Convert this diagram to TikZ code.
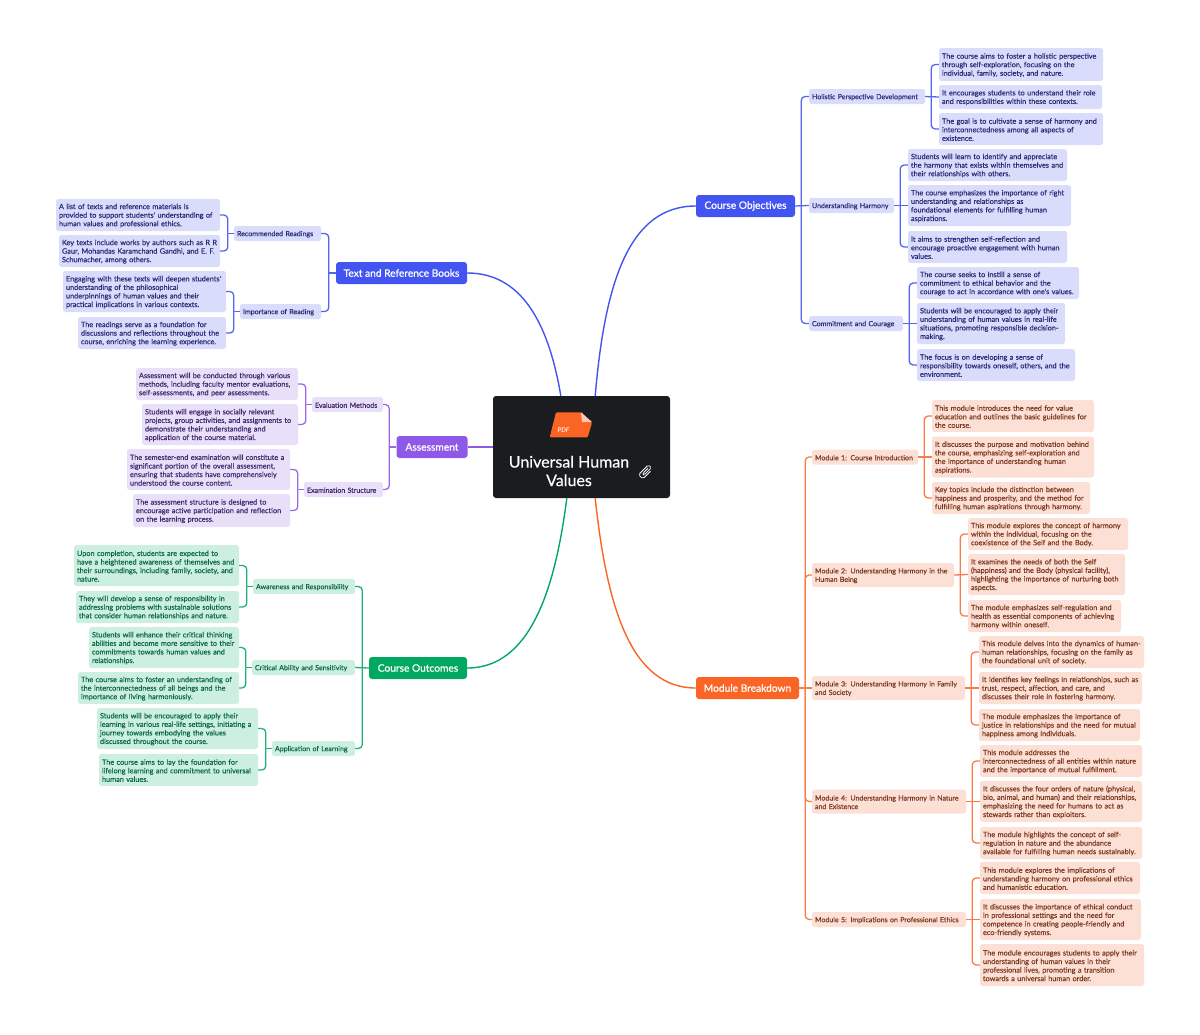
\documentclass[tikz,border=0pt]{standalone}
\usepackage{fontspec}
\usepackage{xcolor}
\setmainfont{Lato}
\newfontfamily\softbold{Lato}[FakeBold=0.3]
\newfontfamily\softbolder{Lato}[FakeBold=0.8]

\definecolor{rootdark}{HTML}{1B1C20}
\definecolor{bluemain}{HTML}{4355F0}
\definecolor{blueleaf}{HTML}{DADCFB}
\definecolor{blueink}{HTML}{2A2C78}
\definecolor{bluewire}{HTML}{5366F2}
\definecolor{purplemain}{HTML}{9058E6}
\definecolor{purpleleaf}{HTML}{E8DFF9}
\definecolor{purpleink}{HTML}{43296E}
\definecolor{purplewire}{HTML}{9A68E8}
\definecolor{greenmain}{HTML}{00A862}
\definecolor{greenleaf}{HTML}{CCEFDF}
\definecolor{greenink}{HTML}{0A6A46}
\definecolor{greenwire}{HTML}{1EB274}
\definecolor{orangemain}{HTML}{FA6425}
\definecolor{orangeleaf}{HTML}{FDE0D5}
\definecolor{orangeink}{HTML}{7B3A20}
\definecolor{orangewire}{HTML}{FB7A45}

\tikzset{
    fit box/.style 2 args={text width=#1pt,minimum height=#2pt},
    leaf/.style={rounded corners=2.5pt,inner xsep=3pt,inner ysep=0pt,align=left,font=\softbold\fontsize{7.3}{8.55}\selectfont,execute at begin node={\rule{0pt}{6.6pt}}},
    tag/.style={font=\softbold\fontsize{7.05}{8.55}\selectfont},
    blue leaf/.style={leaf,fill=blueleaf,text=blueink},
    purple leaf/.style={leaf,fill=purpleleaf,text=purpleink},
    green leaf/.style={leaf,fill=greenleaf,text=greenink},
    orange leaf/.style={leaf,fill=orangeleaf,text=orangeink},
    mainbox/.style={rounded corners=3pt,inner sep=0pt,text=white,align=center,font=\softbolder\fontsize{10.2}{12}\selectfont},
    wire/.style={line width=1.3pt,rounded corners=4pt},
    blue wire/.style={wire,draw=bluewire},
    purple wire/.style={wire,draw=purplewire},
    green wire/.style={wire,draw=greenwire},
    orange wire/.style={wire,draw=orangewire}
}

\begin{document}
\begin{tikzpicture}[x=1pt,y=-1pt]
    \useasboundingbox (0,0) rectangle (1200,1034);

    % centre
    \node[rounded corners=3pt,fill=rootdark,minimum width=177pt,minimum height=102pt] (root) at (581.5,447) {};
    \node[text=white,align=center,inner sep=0pt,font=\softbold\fontsize{16}{18.5}\selectfont] (roottitle) at (569,471) {Universal Human\\Values};
    \fill[orangemain,rounded corners=1pt] (549.7,437.3) -- (556,412.3) -- (581,412.3) -- (592,422.7) -- (587.7,437.3) -- cycle;
    \fill[orangemain!35!white] (581,412.3) -- (592,422) -- (582,422) -- cycle;
    \node[text=white!85!orange,inner sep=0pt,font=\fontsize{6.5}{7}\selectfont\bfseries\itshape] (pdfmark) at (563.5,430) {PDF};
    \draw[white,line width=0.8pt,line cap=round,rounded corners=1.7pt,shift={(646,471.5)},rotate=-45]
        (-0.9,-3.5) -- (-0.9,4) -- (1.1,4) -- (1.1,-6.5) -- (-3,-6.5) -- (-3,7.5) -- (3,7.5) -- (3,-3);

    % main topics
    \node[mainbox,fill=bluemain,minimum width=99pt,minimum height=22pt] (cob) at (745.5,206) {Course Objectives};
    \node[mainbox,fill=bluemain,minimum width=131pt,minimum height=22pt] (trb) at (401.5,273) {Text and Reference Books};
    \node[mainbox,fill=purplemain,minimum width=71pt,minimum height=22pt] (asm) at (432,447) {Assessment};
    \node[mainbox,fill=greenmain,minimum width=98pt,minimum height=22pt] (cou) at (418,668) {Course Outcomes};
    \node[mainbox,fill=orangemain,minimum width=103pt,minimum height=22pt] (mob) at (747.5,688) {Module Breakdown};

    \draw[line width=1.4pt,bluemain] (root.75) .. controls (605,280) and (630,206) .. (cob.west);
    \draw[line width=1.4pt,bluemain] (root.112) .. controls (548,320) and (520,273) .. (trb.east);
    \draw[line width=1.4pt,purplemain] (root.west) -- (asm.east);
    \draw[line width=1.4pt,greenmain] (root.254) .. controls (555,590) and (530,668) .. (cou.east);
    \draw[line width=1.4pt,orangemain] (root.285) .. controls (607,610) and (632,688) .. (mob.west);

    % course objectives
    \node[blue leaf,tag,fit box={110}{15}] (hpd) at (867,96.5) {Holistic Perspective Development};
    \node[blue leaf,fit box={158}{33}] (hpa) at (1021,64.5) {The course aims to foster a holistic perspective\\through self-exploration, focusing on the\\individual, family, society, and nature.};
    \node[blue leaf,fit box={157}{24}] (hpb) at (1020.5,97) {It encourages students to understand their role\\and responsibilities within these contexts.};
    \node[blue leaf,fit box={158}{32}] (hpc) at (1021,129) {The goal is to cultivate a sense of harmony and\\interconnectedness among all aspects of\\existence.};
    \node[blue leaf,tag,fit box={79}{15}] (uhn) at (851.5,205.5) {Understanding Harmony};
    \node[blue leaf,fit box={153}{32}] (uha) at (987.5,165) {Students will learn to identify and appreciate\\the harmony that exists within themselves and\\their relationships with others.};
    \node[blue leaf,fit box={157}{41}] (uhb) at (989.5,205.5) {The course emphasizes the importance of right\\understanding and relationships as\\foundational elements for fulfilling human\\aspirations.};
    \node[blue leaf,fit box={153}{32}] (uhc) at (987.5,247) {It aims to strengthen self-reflection and\\encourage proactive engagement with human\\values.};
    \node[blue leaf,tag,fit box={88}{15}] (ccg) at (856,323.5) {Commitment and Courage};
    \node[blue leaf,fit box={156}{32}] (cca) at (998,283) {The course seeks to instill a sense of\\commitment to ethical behavior and the\\courage to act in accordance with one's values.};
    \node[blue leaf,fit box={142}{41}] (ccb) at (991,323.5) {Students will be encouraged to apply their\\understanding of human values in real-life\\situations, promoting responsible decision-\\making.};
    \node[blue leaf,fit box={152}{32}] (ccc) at (996,365) {The focus is on developing a sense of\\responsibility towards oneself, others, and the\\environment.};

    \draw[blue wire] (cob.east) -- (uhn.west);
    \draw[blue wire] (cob.east) ++(6,0) |- (hpd.west);
    \draw[blue wire] (cob.east) ++(6,0) |- (ccg.west);
    \draw[blue wire] (hpd.east) -- (hpb.west);
    \draw[blue wire] (hpd.east) ++(6,0) |- (hpa.west);
    \draw[blue wire] (hpd.east) ++(6,0) |- (hpc.west);
    \draw[blue wire] (uhn.east) -- (uhb.west);
    \draw[blue wire] (uhn.east) ++(6,0) |- (uha.west);
    \draw[blue wire] (uhn.east) ++(6,0) |- (uhc.west);
    \draw[blue wire] (ccg.east) -- (ccb.west);
    \draw[blue wire] (ccg.east) ++(6,0) |- (cca.west);
    \draw[blue wire] (ccg.east) ++(6,0) |- (ccc.west);

    % module breakdown
    \node[orange leaf,tag,fit box={100}{15}] (moa) at (865,457) {Module 1: Course Introduction};
    \node[orange leaf,fit box={156}{32}] (maa) at (1013,416) {This module introduces the need for value\\education and outlines the basic guidelines for\\the course.};
    \node[orange leaf,fit box={156}{41}] (mab) at (1013,457) {It discusses the purpose and motivation behind\\the course, emphasizing self-exploration and\\the importance of understanding human\\aspirations.};
    \node[orange leaf,fit box={152}{32}] (mac) at (1011,498) {Key topics include the distinction between\\happiness and prosperity, and the method for\\fulfilling human aspirations through harmony.};
    \node[orange leaf,tag,fit box={136}{24}] (mob2) at (883,575) {Module 2: Understanding Harmony in the\\Human Being};
    \node[orange leaf,fit box={154}{32}] (mba) at (1048,534) {This module explores the concept of harmony\\within the individual, focusing on the\\coexistence of the Self and the Body.};
    \node[orange leaf,fit box={151}{41}] (mbb) at (1046.5,574.5) {It examines the needs of both the Self\\(happiness) and the Body (physical facility),\\highlighting the importance of nurturing both\\aspects.};
    \node[orange leaf,fit box={147}{32}] (mbc) at (1044.5,616) {The module emphasizes self-regulation and\\health as essential components of achieving\\harmony within oneself.};
    \node[orange leaf,tag,fit box={147}{24}] (moc) at (888.5,688) {Module 3: Understanding Harmony in Family\\and Society};
    \node[orange leaf,fit box={159}{32}] (mca) at (1061.5,652) {This module delves into the dynamics of human-\\human relationships, focusing on the family as\\the foundational unit of society.};
    \node[orange leaf,fit box={157}{32}] (mcb) at (1060.5,688) {It identifies key feelings in relationships, such as\\trust, respect, affection, and care, and\\discusses their role in fostering harmony.};
    \node[orange leaf,fit box={155}{32}] (mcc) at (1059.5,725) {The module emphasizes the importance of\\justice in relationships and the need for mutual\\happiness among individuals.};
    \node[orange leaf,tag,fit box={148}{24}] (mod) at (889,801.5) {Module 4: Understanding Harmony in Nature\\and Existence};
    \node[orange leaf,fit box={156}{32}] (mda) at (1061,761) {This module addresses the\\interconnectedness of all entities within nature\\and the importance of mutual fulfillment.};
    \node[orange leaf,fit box={156}{41}] (mdb) at (1061,801.5) {It discusses the four orders of nature (physical,\\bio, animal, and human) and their relationships,\\emphasizing the need for humans to act as\\stewards rather than exploiters.};
    \node[orange leaf,fit box={156}{32}] (mdc) at (1061,843) {The module highlights the concept of self-\\regulation in nature and the abundance\\available for fulfilling human needs sustainably.};
    \node[orange leaf,tag,fit box={148}{15}] (moe) at (889,919.5) {Module 5: Implications on Professional Ethics};
    \node[orange leaf,fit box={154}{32}] (mea) at (1060,878) {This module explores the implications of\\understanding harmony on professional ethics\\and humanistic education.};
    \node[orange leaf,fit box={155}{41}] (meb) at (1060.5,919.5) {It discusses the importance of ethical conduct\\in professional settings and the need for\\competence in creating people-friendly and\\eco-friendly systems.};
    \node[orange leaf,fit box={158}{42}] (mec) at (1062,965) {The module encourages students to apply their\\understanding of human values in their\\professional lives, promoting a transition\\towards a universal human order.};

    \draw[orange wire] (mob.east) -- (moc.west);
    \draw[orange wire] (mob.east) ++(6,0) |- (moa.west);
    \draw[orange wire] (mob.east) ++(6,0) |- (mob2.west);
    \draw[orange wire] (mob.east) ++(6,0) |- (mod.west);
    \draw[orange wire] (mob.east) ++(6,0) |- (moe.west);
    \draw[orange wire] (moa.east) -- (mab.west);
    \draw[orange wire] (moa.east) ++(6,0) |- (maa.west);
    \draw[orange wire] (moa.east) ++(6,0) |- (mac.west);
    \draw[orange wire] (mob2.east) -- (mbb.west);
    \draw[orange wire] (mob2.east) ++(6,0) |- (mba.west);
    \draw[orange wire] (mob2.east) ++(6,0) |- (mbc.west);
    \draw[orange wire] (moc.east) -- (mcb.west);
    \draw[orange wire] (moc.east) ++(6,0) |- (mca.west);
    \draw[orange wire] (moc.east) ++(6,0) |- (mcc.west);
    \draw[orange wire] (mod.east) -- (mdb.west);
    \draw[orange wire] (mod.east) ++(6,0) |- (mda.west);
    \draw[orange wire] (mod.east) ++(6,0) |- (mdc.west);
    \draw[orange wire] (moe.east) -- (meb.west);
    \draw[orange wire] (moe.east) ++(6,0) |- (mea.west);
    \draw[orange wire] (moe.east) ++(6,0) |- (mec.west);

    % text and reference books
    \node[blue leaf,tag,fit box={81}{15}] (rcr) at (277.5,233.5) {Recommended Readings};
    \node[blue leaf,fit box={158}{32}] (rda) at (138,215) {A list of texts and reference materials is\\provided to support students' understanding of\\human values and professional ethics.};
    \node[blue leaf,fit box={155}{32}] (rdb) at (139.5,251) {Key texts include works by authors such as R R\\Gaur, Mohandas Karamchand Gandhi, and E. F.\\Schumacher, among others.};
    \node[blue leaf,tag,fit box={75}{15}] (imp) at (280.5,311.5) {Importance of Reading};
    \node[blue leaf,fit box={157}{41}] (rdc) at (144.5,291.5) {Engaging with these texts will deepen students'\\understanding of the philosophical\\underpinnings of human values and their\\practical implications in various contexts.};
    \node[blue leaf,fit box={142}{32}] (rdd) at (152,333) {The readings serve as a foundation for\\discussions and reflections throughout the\\course, enriching the learning experience.};

    \draw[blue wire] (trb.west) -- ++(-7,0);
    \draw[blue wire] (trb.west) ++(-7,0) |- (rcr.east);
    \draw[blue wire] (trb.west) ++(-7,0) |- (imp.east);
    \draw[blue wire] (rcr.west) -- ++(-6,0);
    \draw[blue wire] (rcr.west) ++(-6,0) |- (rda.east);
    \draw[blue wire] (rcr.west) ++(-6,0) |- (rdb.east);
    \draw[blue wire] (imp.west) -- ++(-6,0);
    \draw[blue wire] (imp.west) ++(-6,0) |- (rdc.east);
    \draw[blue wire] (imp.west) ++(-6,0) |- (rdd.east);

    % assessment
    \node[purple leaf,tag,fit box={65}{15}] (evm) at (347.5,404.5) {Evaluation Methods};
    \node[purple leaf,fit box={156}{32}] (asa) at (217,384) {Assessment will be conducted through various\\methods, including faculty mentor evaluations,\\self-assessments, and peer assessments.};
    \node[purple leaf,fit box={150}{41}] (asb) at (220,424.5) {Students will engage in socially relevant\\projects, group activities, and assignments to\\demonstrate their understanding and\\application of the course material.};
    \node[purple leaf,tag,fit box={73}{15}] (exs) at (343.5,489.5) {Examination Structure};
    \node[purple leaf,fit box={157}{41}] (asc) at (208.5,469.5) {The semester-end examination will constitute a\\significant portion of the overall assessment,\\ensuring that students have comprehensively\\understood the course content.};
    \node[purple leaf,fit box={151}{33}] (asd) at (211.5,510.5) {The assessment structure is designed to\\encourage active participation and reflection\\on the learning process.};

    \draw[purple wire] (asm.west) -- ++(-7,0);
    \draw[purple wire] (asm.west) ++(-7,0) |- (evm.east);
    \draw[purple wire] (asm.west) ++(-7,0) |- (exs.east);
    \draw[purple wire] (evm.west) -- ++(-6,0);
    \draw[purple wire] (evm.west) ++(-6,0) |- (asa.east);
    \draw[purple wire] (evm.west) ++(-6,0) |- (asb.east);
    \draw[purple wire] (exs.west) -- ++(-6,0);
    \draw[purple wire] (exs.west) ++(-6,0) |- (asc.east);
    \draw[purple wire] (exs.west) ++(-6,0) |- (asd.east);

    % course outcomes
    \node[green leaf,tag,fit box={96}{15}] (awr) at (304,586.5) {Awareness and Responsibility};
    \node[green leaf,fit box={159}{41}] (oca) at (156.5,565.5) {Upon completion, students are expected to\\have a heightened awareness of themselves and\\their surroundings, including family, society, and\\nature.};
    \node[green leaf,fit box={157}{32}] (ocb) at (157.5,607) {They will develop a sense of responsibility in\\addressing problems with sustainable solutions\\that consider human relationships and nature.};
    \node[green leaf,tag,fit box={97}{15}] (cas) at (303.5,667.5) {Critical Ability and Sensitivity};
    \node[green leaf,fit box={144}{41}] (occ) at (164,647.5) {Students will enhance their critical thinking\\abilities and become more sensitive to their\\commitments towards human values and\\relationships.};
    \node[green leaf,fit box={155}{32}] (ocd) at (158.5,688) {The course aims to foster an understanding of\\the interconnectedness of all beings and the\\importance of living harmoniously.};
    \node[green leaf,tag,fit box={77}{15}] (apl) at (313.5,748.5) {Application of Learning};
    \node[green leaf,fit box={155}{41}] (oce) at (177.5,728.5) {Students will be encouraged to apply their\\learning in various real-life settings, initiating a\\journey towards embodying the values\\discussed throughout the course.};
    \node[green leaf,fit box={153}{32}] (ocf) at (178.5,770) {The course aims to lay the foundation for\\lifelong learning and commitment to universal\\human values.};

    \draw[green wire] (cou.west) -- (cas.east);
    \draw[green wire] (cou.west) ++(-6.5,0) |- (awr.east);
    \draw[green wire] (cou.west) ++(-6.5,0) |- (apl.east);
    \draw[green wire] (awr.west) -- ++(-6,0);
    \draw[green wire] (awr.west) ++(-6,0) |- (oca.east);
    \draw[green wire] (awr.west) ++(-6,0) |- (ocb.east);
    \draw[green wire] (cas.west) -- ++(-6,0);
    \draw[green wire] (cas.west) ++(-6,0) |- (occ.east);
    \draw[green wire] (cas.west) ++(-6,0) |- (ocd.east);
    \draw[green wire] (apl.west) -- ++(-6,0);
    \draw[green wire] (apl.west) ++(-6,0) |- (oce.east);
    \draw[green wire] (apl.west) ++(-6,0) |- (ocf.east);
\end{tikzpicture}
\end{document}
